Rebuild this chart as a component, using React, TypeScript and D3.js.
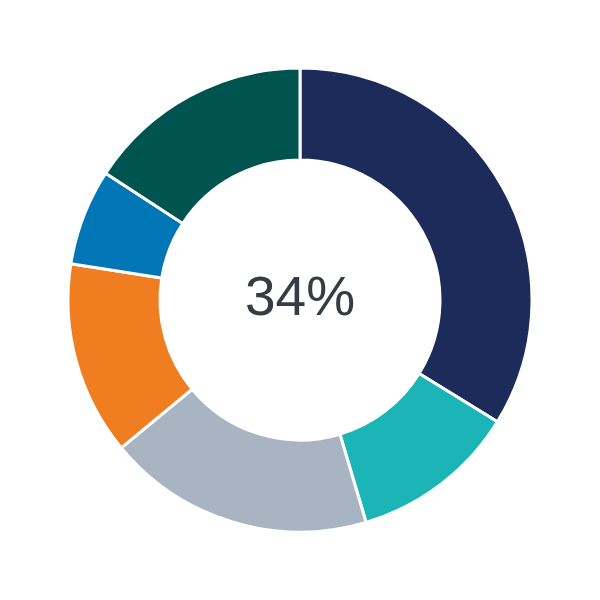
import React, { useEffect, useRef } from "react";
import * as d3 from "d3";

const categories = ["A", "B", "C", "D", "E", "F"];
const values = [33.8, 11.6, 18.6, 13.5, 6.7, 15.8];
const colors = ["#1c2b5a", "#1bb5b8", "#a9b4c2", "#f07d20", "#0076b6", "#00544f"];
const centerLabel = "34%";

const width = 600;
const height = 600;

export default function App() {
  const svgRef = useRef<SVGSVGElement | null>(null);

  useEffect(() => {
    const svg = d3.select(svgRef.current);
    svg.selectAll("*").remove();

    const outer = 232;
    const inner = 140;

    const data = categories.map((c, i) => ({ category: c, value: values[i], color: colors[i] }));
    const pie = d3.pie<any>().sort(null).value((d) => d.value);
    const arc = d3.arc<any>().innerRadius(inner).outerRadius(outer);

    const g = svg
      .attr("width", width)
      .attr("height", height)
      .append("g")
      .attr("transform", `translate(${width / 2}, ${height / 2})`);

    g.selectAll("path")
      .data(pie(data))
      .enter()
      .append("path")
      .attr("d", arc)
      .attr("fill", (d) => d.data.color)
      .attr("stroke", "#fff")
      .attr("stroke-width", 3);

    // center label
    g.append("text")
      .attr("text-anchor", "middle")
      .attr("dy", "0.27em")
      .style("font-family", "'Liberation Sans', Arial, sans-serif")
      .style("font-size", "55px")
      .style("fill", "#363b45")
      .text(centerLabel);
  }, []);

  return (
    <div style={{ position: "absolute", left: 0, top: 0 }}>
      <svg ref={svgRef}></svg>
    </div>
  );
}
